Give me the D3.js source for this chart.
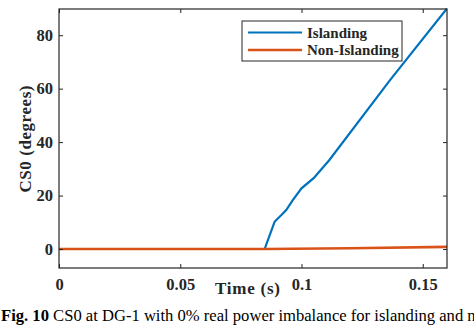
<!DOCTYPE html>
<html><head><meta charset="utf-8">
<script src="https://cdn.jsdelivr.net/npm/d3@7"></script>
<style>body{margin:0;background:#fff}svg{display:block}</style>
</head><body>
<script>
const xTicks = [0, 0.05, 0.1, 0.15];
const xTickLabels = ["0", "0.05", "0.1", "0.15"];
const yTicks = [0, 20, 40, 60, 80];
const islandingT = [0, 0.0848, 0.0889, 0.0917, 0.0937, 0.0964, 0.1, 0.105, 0.1115, 0.1365, 0.16];
const islandingV = [0, 0, 10.2, 12.7, 14.6, 18.3, 22.7, 26.5, 33.3, 63.2, 90];
const nonIslT = [0, 0.085, 0.12, 0.16];
const nonIslV = [0, 0, 0.3, 0.8];
const seriesNames = ["Islanding", "Non-Islanding"];
const colors = ["#0072BD", "#D95319"];

const W = 474, H = 325;
const m = {left: 59, top: 9, right: 447, bottom: 268};
const svg = d3.select("body").append("svg").attr("width", W).attr("height", H);
const x = d3.scaleLinear().domain([0, 0.16]).range([m.left, m.right]);
const y = d3.scaleLinear().domain([-7.1, 89.8]).range([m.bottom, m.top]);
const font = "'Liberation Serif', 'Times New Roman', serif";

const line = d3.line().x(d => x(d[0])).y(d => y(d[1]));
const isl = islandingT.map((t, i) => [t, islandingV[i]]);
const non = nonIslT.map((t, i) => [t, nonIslV[i]]);
const clip = svg.append("clipPath").attr("id", "c").append("rect")
  .attr("x", m.left).attr("y", m.top - 1).attr("width", m.right - m.left).attr("height", m.bottom - m.top + 1);
const g = svg.append("g").attr("clip-path", "url(#c)");
g.append("path").datum(isl).attr("d", line).attr("fill", "none").attr("stroke", colors[0]).attr("stroke-width", 2.2);
g.append("path").datum(non).attr("d", line).attr("fill", "none").attr("stroke", colors[1]).attr("stroke-width", 2.6);

// axes
const ax = svg.append("g").attr("font-family", font);
const xb = d3.axisBottom(x).tickValues(xTicks).tickFormat((d, i) => xTickLabels[i]).tickSizeInner(-4).tickSizeOuter(0).tickPadding(10);
const xt = d3.axisTop(x).tickValues(xTicks).tickFormat("").tickSizeInner(-4).tickSizeOuter(0);
const yl = d3.axisLeft(y).tickValues(yTicks).tickSizeInner(-4).tickSizeOuter(0).tickPadding(6);
const yr = d3.axisRight(y).tickValues(yTicks).tickFormat("").tickSizeInner(-4).tickSizeOuter(0);
[[xb, `translate(0,${m.bottom})`], [xt, `translate(0,${m.top})`], [yl, `translate(${m.left},0)`], [yr, `translate(${m.right},0)`]].forEach(([a, tr]) => {
  const gg = ax.append("g").attr("transform", tr).call(a);
  gg.select(".domain").remove();
  gg.selectAll("line").attr("stroke", "#262626");
  gg.selectAll("text").attr("font-family", font).attr("font-size", 16.5).attr("font-weight", "bold").attr("fill", "#262626");
});
svg.append("rect").attr("x", m.left).attr("y", m.top).attr("width", m.right - m.left).attr("height", m.bottom - m.top)
  .attr("fill", "none").attr("stroke", "#262626").attr("stroke-width", 1.2);

svg.append("text").attr("x", 247.5).attr("y", 294).attr("text-anchor", "middle")
  .attr("font-family", font).attr("font-size", 17).attr("font-weight", "bold").attr("fill", "#262626")
  .attr("textLength", 65).attr("lengthAdjust", "spacing").text("Time (s)");
svg.append("text").attr("transform", "translate(31,139) rotate(-90)").attr("text-anchor", "middle")
  .attr("font-family", font).attr("font-size", 17).attr("font-weight", "bold").attr("fill", "#262626")
  .attr("textLength", 107).attr("lengthAdjust", "spacing").text("CS0 (degrees)");

// legend
const lg = svg.append("g");
lg.append("rect").attr("x", 242).attr("y", 21).attr("width", 160).attr("height", 40).attr("fill", "#fff").attr("stroke", "#262626").attr("stroke-width", 1);
seriesNames.forEach((n, i) => {
  const yy = 32.5 + i * 17.5;
  lg.append("line").attr("x1", 248).attr("x2", 302).attr("y1", yy).attr("y2", yy).attr("stroke", colors[i]).attr("stroke-width", i ? 2.6 : 2.2);
  lg.append("text").attr("x", 307).attr("y", yy + 5).attr("font-family", font).attr("font-size", 15).attr("font-weight", "bold").attr("fill", "#262626").text(n);
});

// caption
const cap = svg.append("text").attr("x", 1).attr("y", 321).attr("font-family", font).attr("font-size", 16.6).attr("fill", "#000");
cap.append("tspan").attr("font-weight", "bold").text("Fig. 10");
cap.append("tspan").text(" CS0 at DG-1 with 0% real power imbalance for islanding and non-islanding");
</script>
</body></html>
